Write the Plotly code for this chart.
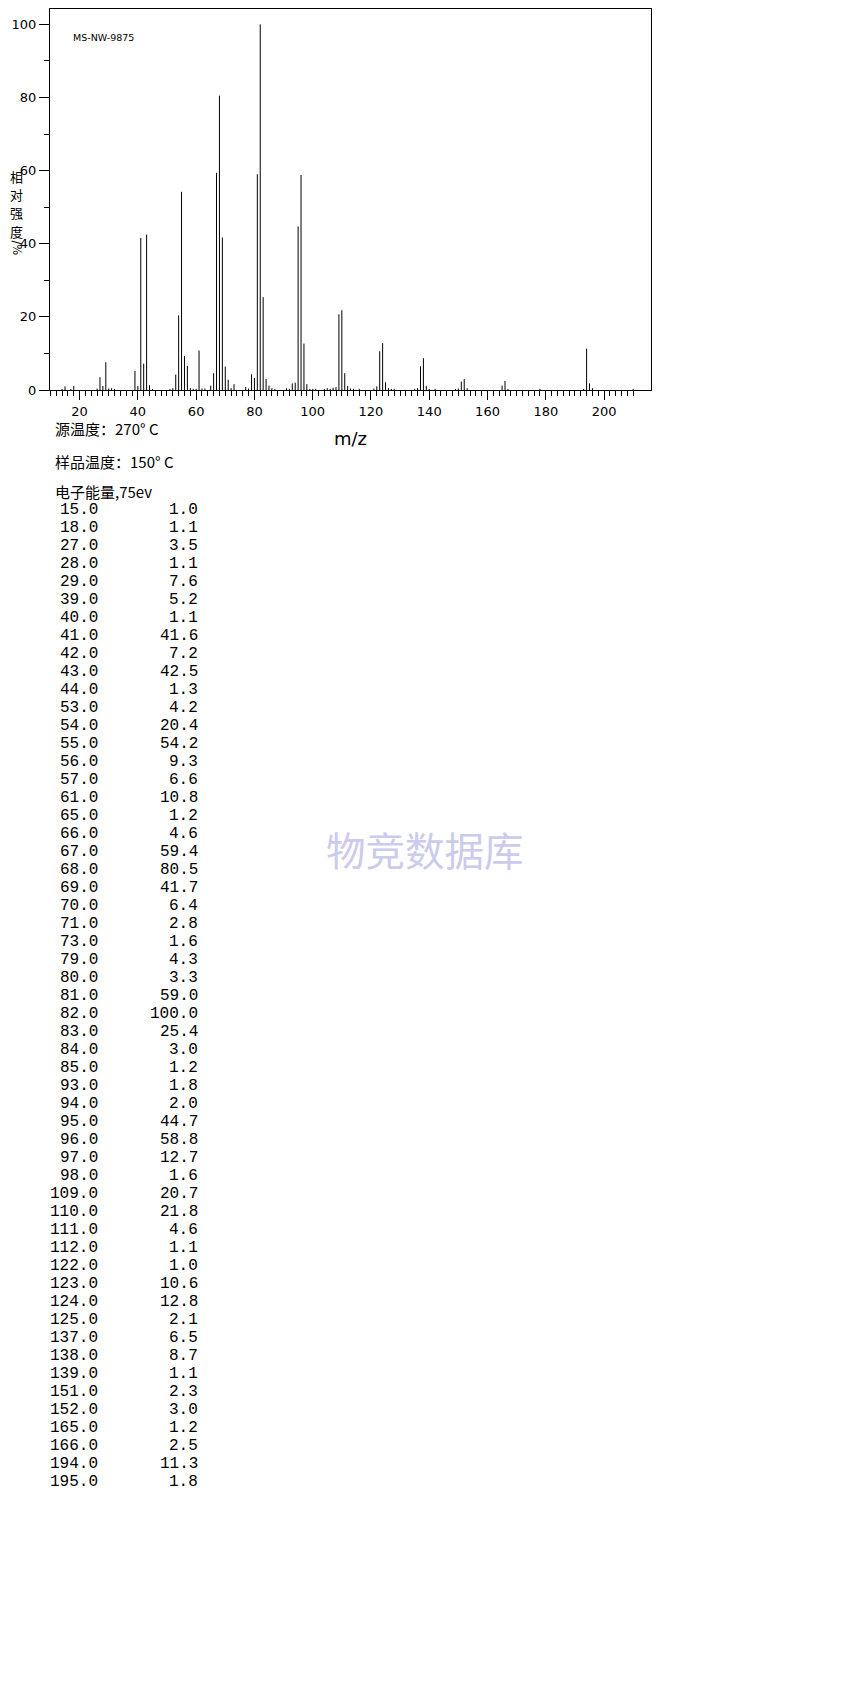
import plotly.graph_objects as go

# ---- data: peaks listed in the table (m/z, relative intensity %) ----
mz_table = [15, 18, 27, 28, 29, 39, 40, 41, 42, 43, 44, 53, 54, 55, 56, 57, 61, 65, 66,
            67, 68, 69, 70, 71, 73, 79, 80, 81, 82, 83, 84, 85, 93, 94, 95, 96, 97, 98,
            109, 110, 111, 112, 122, 123, 124, 125, 137, 138, 139, 151, 152, 165, 166,
            194, 195]
int_table = [1.0, 1.1, 3.5, 1.1, 7.6, 5.2, 1.1, 41.6, 7.2, 42.5, 1.3, 4.2, 20.4, 54.2,
             9.3, 6.6, 10.8, 1.2, 4.6, 59.4, 80.5, 41.7, 6.4, 2.8, 1.6, 4.3, 3.3, 59.0,
             100.0, 25.4, 3.0, 1.2, 1.8, 2.0, 44.7, 58.8, 12.7, 1.6, 20.7, 21.8, 4.6, 1.1,
             1.0, 10.6, 12.8, 2.1, 6.5, 8.7, 1.1, 2.3, 3.0, 1.2, 2.5, 11.3, 1.8]

# ---- data: small peaks (<1 %) ----
mz_small = [14, 17, 26, 30, 31, 32, 45, 51, 52, 58, 59, 60, 62, 63, 72, 77, 78, 86, 87,
            91, 92, 99, 100, 101, 104, 105, 106, 107, 108, 113, 114, 116, 121, 126, 127,
            128, 135, 136, 140, 142, 149, 150, 153, 167, 178, 193, 196, 210]
int_small = [0.3, 0.3, 0.4, 0.4, 0.5, 0.3, 0.3, 0.3, 0.5, 0.5, 0.3, 0.3, 0.4, 0.4, 0.5,
             0.8, 0.4, 0.5, 0.3, 0.5, 0.3, 0.3, 0.3, 0.3, 0.3, 0.5, 0.3, 0.6, 0.8, 0.4,
             0.3, 0.3, 0.4, 0.5, 0.3, 0.3, 0.3, 0.5, 0.3, 0.3, 0.3, 0.4, 0.5, 0.3, 0.3,
             0.3, 0.5, 0.3]

x_tick_vals = [20, 40, 60, 80, 100, 120, 140, 160, 180, 200]
x_tick_text = ["20", "40", "60", "80", "100", "120", "140", "160", "180", "200"]
x_minor_vals = list(range(10, 212, 2))
y_tick_vals = [0, 20, 40, 60, 80, 100]
y_tick_text = ["0", "20", "40", "60", "80", "100"]
y_minor_vals = [10, 30, 50, 70, 90]

sample_id = "MS-NW-9875"
info_lines = ["源温度：270° C", "样品温度：150° C", "电子能量,75ev"]
watermark = "物竞数据库"
y_title_chars = ["相", "对", "强", "度"]
y_title_tail = "/%"
x_title = "m/z"

# ---- geometry: the page body has an 8px margin, so figure = page - 8 ----
OFF = 8
W, H = 850 - OFF, 1701 - OFF
L, R, T, B = 50 - OFF, 651 - OFF, 1, 390 - OFF   # plot area in figure px


def px_x(px):          # page px -> paper x
    return (px - OFF - L) / (R - L)


def px_y(py):          # page py -> paper y
    return (B - (py - OFF)) / (B - T)


# build stick spectrum
peaks = sorted(zip(mz_table + mz_small, int_table + int_small))
xs, ys = [], []
for m, v in peaks:
    xs += [m, m, None]
    ys += [0, v, None]

fig = go.Figure()
fig.add_trace(go.Scatter(x=xs, y=ys, mode="lines",
                         line=dict(color="black", width=1),
                         hoverinfo="skip", showlegend=False))

tick_font = dict(family="DejaVu Sans", size=13, color="black")
fig.update_layout(
    width=W, height=H,
    margin=dict(l=L, r=W - R, t=T, b=H - B, pad=0),
    paper_bgcolor="white", plot_bgcolor="white",
    showlegend=False,
    xaxis=dict(range=[9.85, 216.1], showgrid=False, zeroline=False,
               showline=True, mirror=True, linecolor="black", linewidth=1,
               tickmode="array", tickvals=x_tick_vals, ticktext=x_tick_text,
               ticks="outside", ticklen=9, tickwidth=1, tickcolor="black",
               tickfont=tick_font,
               minor=dict(tickmode="array", tickvals=x_minor_vals, ticks="outside",
                          ticklen=5, tickwidth=1, tickcolor="black", showgrid=False)),
    yaxis=dict(range=[0, 104.2], showgrid=False, zeroline=False,
               showline=True, mirror=True, linecolor="black", linewidth=1,
               tickmode="array", tickvals=y_tick_vals, ticktext=y_tick_text,
               ticks="outside", ticklen=10, tickwidth=1, tickcolor="black",
               tickfont=tick_font,
               minor=dict(tickmode="array", tickvals=y_minor_vals, ticks="outside",
                          ticklen=5, tickwidth=1, tickcolor="black", showgrid=False)),
)

ann = []
# sample id inside plot
ann.append(dict(text=sample_id, x=px_x(71), y=px_y(37.5), xref="paper", yref="paper",
                xanchor="left", yanchor="middle", showarrow=False,
                font=dict(family="DejaVu Sans", size=9.5, color="black")))
# y title (vertical, stacked characters)
for ch, py in zip(y_title_chars, [176, 194.5, 213, 231]):
    ann.append(dict(text=ch, x=px_x(8.5), y=px_y(py), xref="paper", yref="paper",
                    xanchor="left", yanchor="middle", showarrow=False, borderpad=0,
                    font=dict(family="Noto Sans CJK SC", size=13, color="black")))
ann.append(dict(text=y_title_tail, x=px_x(8.5), y=px_y(248), textangle=90,
                xref="paper", yref="paper", xanchor="left", yanchor="middle",
                showarrow=False, borderpad=0,
                font=dict(family="DejaVu Sans", size=11.5, color="black")))
# x title
ann.append(dict(text=x_title, x=px_x(350), y=px_y(438), xref="paper", yref="paper",
                xanchor="center", yanchor="middle", showarrow=False,
                font=dict(family="DejaVu Sans", size=18, color="black")))
# info lines
for txt, py in zip(info_lines, [428, 461, 491]):
    ann.append(dict(text=txt, x=px_x(53), y=px_y(py), xref="paper", yref="paper",
                    xanchor="left", yanchor="middle", showarrow=False,
                    font=dict(family="Noto Sans CJK SC", size=15, color="black")))
# table
row0, dy = 510, 18.0
mono = dict(family="Liberation Mono", size=16, color="black")
for i, (m, v) in enumerate(zip(mz_table, int_table)):
    py = row0 + i * dy
    ann.append(dict(text=f"{m:.1f}", x=px_x(100), y=px_y(py), xref="paper", yref="paper",
                    xanchor="right", yanchor="middle", showarrow=False, font=mono))
    ann.append(dict(text=f"{v:.1f}", x=px_x(200), y=px_y(py), xref="paper", yref="paper",
                    xanchor="right", yanchor="middle", showarrow=False, font=mono))
# watermark
ann.append(dict(text=watermark, x=px_x(425), y=px_y(848), xref="paper", yref="paper",
                xanchor="center", yanchor="middle", showarrow=False,
                font=dict(family="Noto Sans CJK SC", size=39.5, color="#cbcbee")))

fig.update_layout(annotations=ann)
fig.write_html("out.html")
